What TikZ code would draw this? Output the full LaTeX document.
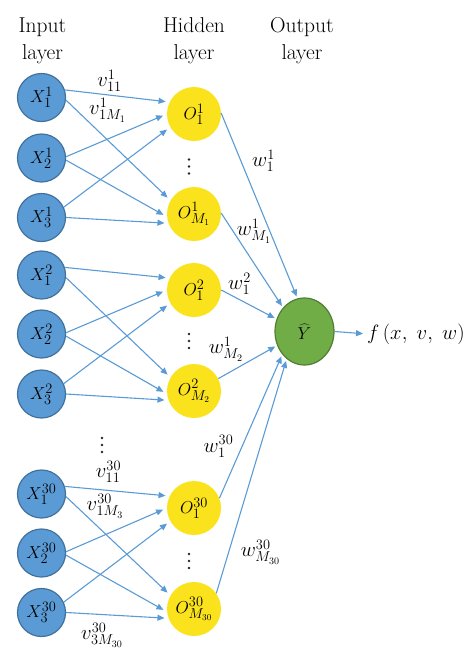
\documentclass[tikz,border=0pt]{standalone}
\usetikzlibrary{arrows.meta,shapes.geometric}
\definecolor{inblue}{RGB}{91,155,213}
\definecolor{inborder}{RGB}{65,113,156}
\definecolor{hidyel}{RGB}{250,226,28}
\definecolor{outgreen}{RGB}{112,173,71}
\definecolor{outborder}{RGB}{80,126,50}
\definecolor{linkblue}{RGB}{91,155,213}
\begin{document}
\begin{tikzpicture}[x=1pt,y=-1pt,
  inp/.style={circle,fill=inblue,draw=inborder,line width=1.2pt,minimum size=48pt,inner sep=0pt,font=\fontsize{19}{22}\selectfont},
  hid/.style={circle,fill=hidyel,minimum size=54pt,inner sep=0pt,font=\fontsize{19}{22}\selectfont},
  outn/.style={ellipse,fill=outgreen,draw=outborder,line width=1.2pt,minimum width=59pt,minimum height=67pt,inner sep=0pt,font=\fontsize{17}{20}\selectfont},
  link/.style={draw=linkblue,line width=1.1pt,-{Triangle[length=7pt,width=6pt]},shorten >=4pt},
  linko/.style={draw=linkblue,line width=1.1pt,-{Triangle[length=7pt,width=6pt]},shorten >=2pt},
  lab/.style={font=\fontsize{19.5}{22}\selectfont,inner sep=0pt},
  head/.style={align=center,font=\fontsize{21.5}{27}\selectfont,inner sep=0pt},
  dotn/.style={circle,fill=black!85,inner sep=0pt,minimum size=2.6pt}
]
\useasboundingbox (0,0) rectangle (474,665);

% headers
\node[head] (hin) at (42.5,41) {Input\\layer};
\node[head] (hhid) at (194,41) {Hidden\\layer};
\node[head] (hout) at (302,41) {Output\\layer};

% input nodes
\node[inp] (X11) at (41.5,97.5) {$X_1^1$};
\node[inp] (X21) at (41.5,158) {$X_2^1$};
\node[inp] (X31) at (41.5,217.5) {$X_3^1$};
\node[inp] (X12) at (41.5,275) {$X_1^2$};
\node[inp] (X22) at (41.5,334) {$X_2^2$};
\node[inp] (X32) at (41.5,394) {$X_3^2$};
\node[inp] (X13) at (41.5,494) {$X_1^{30}$};
\node[inp] (X23) at (41.5,553) {$X_2^{30}$};
\node[inp] (X33) at (41.5,612.5) {$X_3^{30}$};

% hidden nodes
\node[hid] (OA1) at (194,114) {$O_1^1$};
\node[hid] (OB1) at (194,214) {$O_{M_1}^1$};
\node[hid] (OA2) at (194,290) {$O_1^2$};
\node[hid] (OB2) at (194,391) {$O_{M_2}^2$};
\node[hid] (OA3) at (194,508) {$O_1^{30}$};
\node[hid] (OB3) at (194,609) {$O_{M_{30}}^{30}$};

% output
\node[outn] (Y) at (304.5,331.5) {$\widehat{Y}$};
\node[lab,anchor=west] (f) at (367,334) {$f\,(x,\ v,\ w)$};

% vertical ellipses
\foreach \n/\x/\y in {a/189/166.5, b/189/341, c/189/561, d/102/445} {
  \node[dotn] (dot\n1) at (\x,\y-7) {};
  \node[dotn] (dot\n2) at (\x,\y) {};
  \node[dotn] (dot\n3) at (\x,\y+7) {};
}

% input -> hidden
\foreach \g in {1,2,3} {
  \draw[link] (X1\g.18) -- (OA\g.154);
  \draw[link] (X1\g.-6) -- (OB\g.150);
  \draw[link] (X2\g.3) -- (OA\g.180);
  \draw[link] (X2\g.-5) -- (OB\g.186);
  \draw[link] (X3\g.25) -- (OA\g.209);
  \draw[link] (X3\g.0) -- (OB\g.200);
}

% hidden -> output
\draw[linko] (OA1.2) -- (Y.102);
\draw[linko] (OB1.2) -- (Y.132);
\draw[linko] (OA2.0) -- (Y.156);
\draw[linko] (OB2.27) -- (Y.207);
\draw[linko] (OA3.21) -- (Y.226);
\draw[linko] (OB3.35) -- (Y.237);
\draw[link] (Y.east) -- (f.west);

% weight labels
\node[lab] (v111) at (109.5,81) {$v_{11}^1$};
\node[lab] (v1M1) at (107.5,110) {$v_{1M_1}^1$};
\node[lab] (w11) at (263.5,161) {$w_1^1$};
\node[lab] (wM11) at (254,231) {$w_{M_1}^1$};
\node[lab] (w12) at (239.5,284) {$w_1^2$};
\node[lab] (wM21) at (226,349) {$w_{M_2}^1$};
\node[lab] (w130) at (218.5,446.5) {$w_1^{30}$};
\node[lab] (wM30) at (260.5,552) {$w_{M_{30}}^{30}$};
\node[lab] (v1130) at (108.5,472) {$v_{11}^{30}$};
\node[lab] (v1M3) at (105,506) {$v_{1M_3}^{30}$};
\node[lab] (v3M30) at (102,635) {$v_{3M_{30}}^{30}$};
\end{tikzpicture}
\end{document}
